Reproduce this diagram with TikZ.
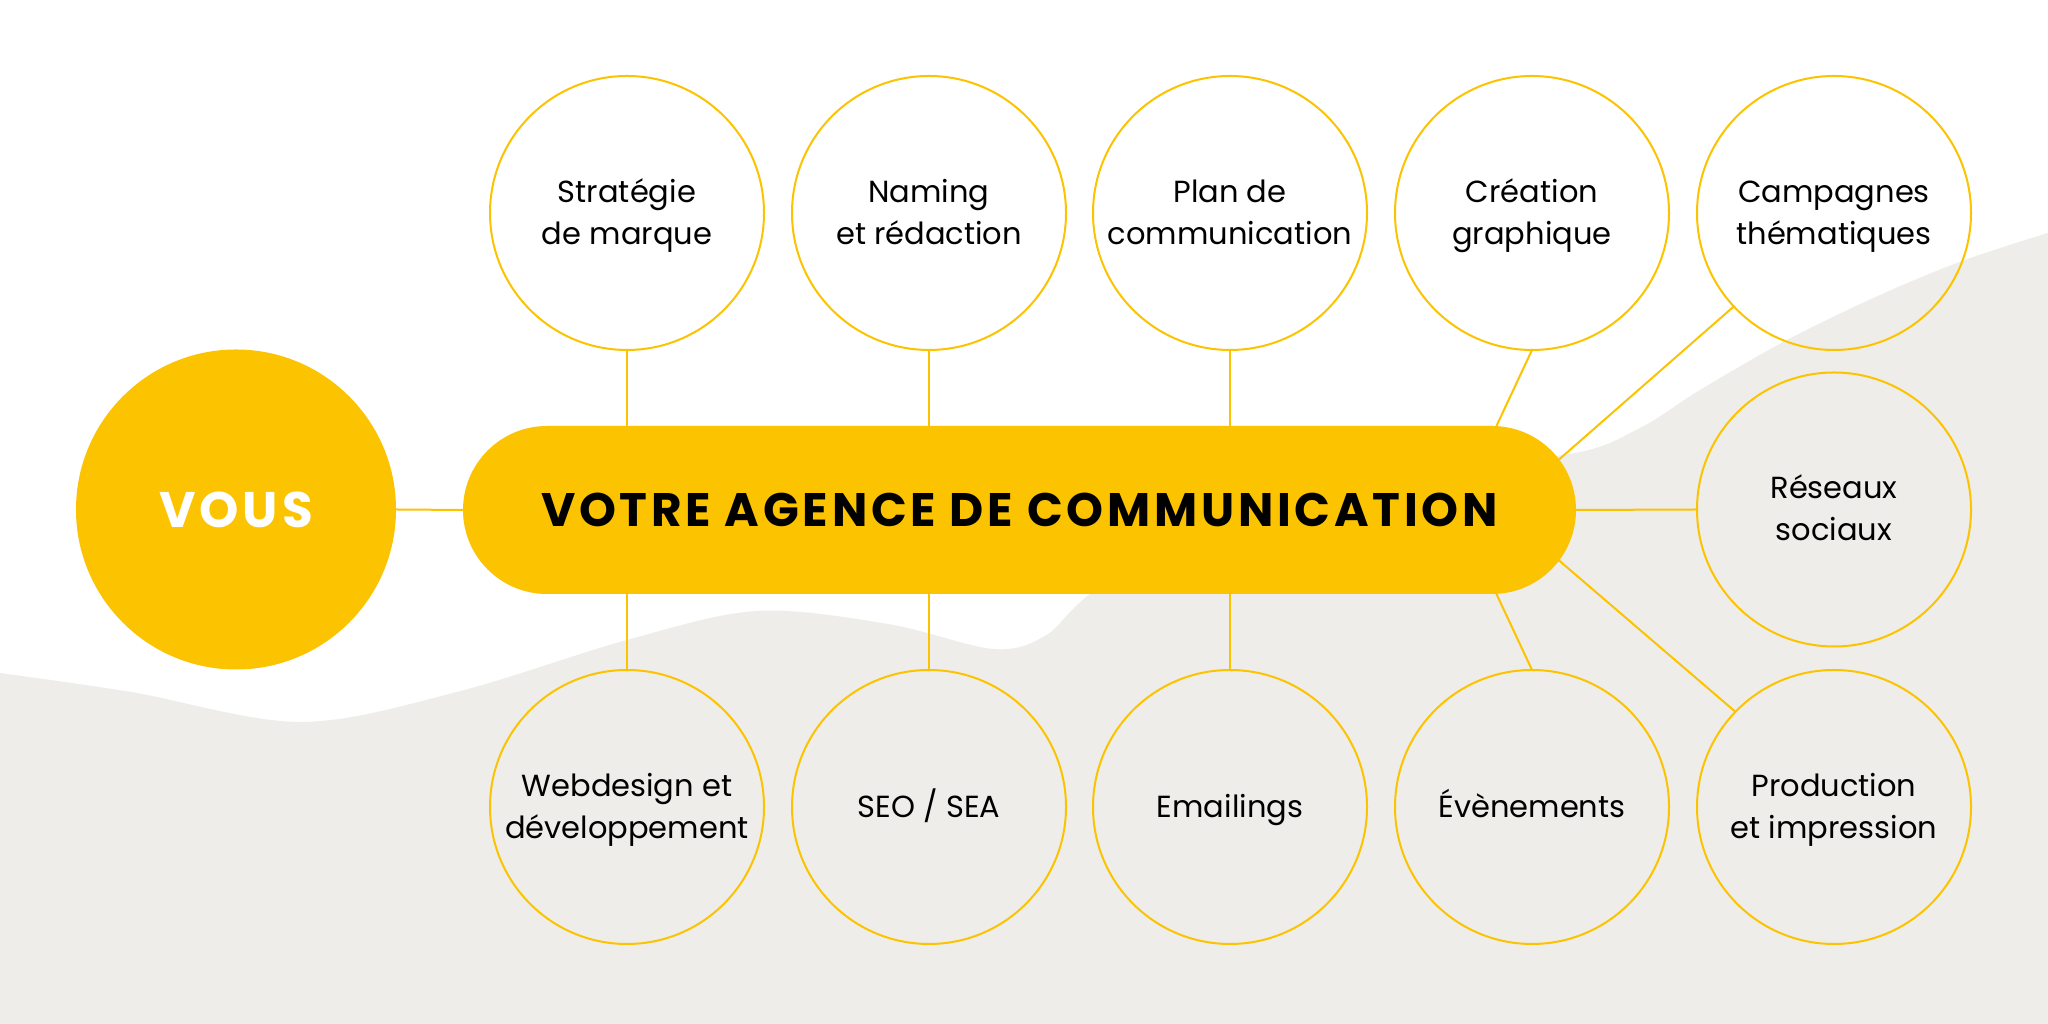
\documentclass[tikz,border=0pt]{standalone}
\usepackage{fontspec}
\setmainfont{Poppins}
\newfontfamily\titlefont[LetterSpace=8]{Poppins}
\usetikzlibrary{calc}
\definecolor{ylw}{HTML}{FCC300}
\definecolor{bgray}{HTML}{EEEDEA}
\newcommand{\sv}{\rule[-10pt]{0pt}{41pt}}
\tikzset{
  svc/.style={circle, draw=ylw, line width=2pt, minimum size=274pt, inner sep=0pt, outer sep=0pt,
    align=center, text=black, font=\fontsize{30.5}{42}\selectfont},
  link/.style={draw=ylw, line width=2pt},
  hub/.style={rectangle, rounded corners=84pt, fill=ylw, minimum width=1113pt, minimum height=168pt,
    inner sep=0pt, outer sep=0pt, text=black, font=\titlefont\bfseries\fontsize{47}{50}\selectfont},
  you/.style={circle, fill=ylw, minimum size=320pt, inner sep=0pt, outer sep=0pt, text=white,
    font=\titlefont\bfseries\fontsize{50}{56}\selectfont}
}
\begin{document}
\begin{tikzpicture}[x=1pt,y=1pt]
\useasboundingbox (0,0) rectangle (2048,1024);
\fill[white] (0,0) rectangle (2048,1024);
\fill[bgray] plot[smooth,tension=0.55] coordinates {(0,351) (131,332) (300,302) (457,332) (627,384) (757,413) (888,400) (993,375) (1045,388) (1090,430) (1200,505) (1400,556) (1570,570) (1640,596) (1700,634) (1787,684) (1880,729) (1965,764) (2048,791)} -- (2048,0) -- (0,0) -- cycle;

\node[you] (vous) at (236,514.5) {VOUS};
\node[hub] (pill) at (1019.5,514) {VOTRE AGENCE DE COMMUNICATION};

\node[svc] (s1) at (627,811) {\sv Stratégie\\\sv de marque};
\node[svc] (s2) at (929,811) {\sv Naming\\\sv et rédaction};
\node[svc] (s3) at (1230,811) {\sv Plan de\\\sv communication};
\node[svc] (s4) at (1532,811) {\sv Création\\\sv graphique};
\node[svc] (s5) at (1834,811) {\sv Campagnes\\\sv thématiques};
\node[svc] (r) at (1834,514.5) {\sv Réseaux\\\sv sociaux};
\node[svc] (b1) at (627,217) {\sv Webdesign et\\\sv développement};
\node[svc] (b2) at (929,217) {\sv SEO / SEA};
\node[svc] (b3) at (1230,217) {\sv Emailings};
\node[svc] (b4) at (1532,217) {\sv Évènements};
\node[svc] (b5) at (1834,217) {\sv Production\\\sv et impression};

\coordinate (pa) at ($(pill.east)+(-84,0)+(87:84)$);
\coordinate (pb) at ($(pill.east)+(-84,0)+(37:84)$);
\coordinate (pc) at ($(pill.east)+(-84,0)+(-37:84)$);
\coordinate (pd) at ($(pill.east)+(-84,0)+(-87:84)$);

\draw[link] (vous.east) -- (pill.west);
\draw[link] (s1.south) -- (s1.south |- pill.north);
\draw[link] (s2.south) -- (s2.south |- pill.north);
\draw[link] (s3.south) -- (s3.south |- pill.north);
\draw[link] (pa) -- (s4.south);
\draw[link] (pb) -- (s5.223.5);
\draw[link] (pill.east) -- (r.west);
\draw[link] (b1.north) -- (b1.north |- pill.south);
\draw[link] (b2.north) -- (b2.north |- pill.south);
\draw[link] (b3.north) -- (b3.north |- pill.south);
\draw[link] (pd) -- (b4.north);
\draw[link] (pc) -- (b5.136.5);
\end{tikzpicture}
\end{document}
